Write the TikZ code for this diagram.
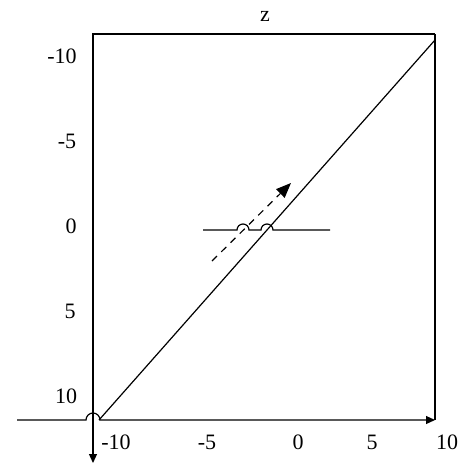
\documentclass[tikz,border=0pt]{standalone}
\usepackage{fontspec}
\setmainfont{Liberation Serif}
\usetikzlibrary{arrows.meta}
\begin{document}
\begin{tikzpicture}[x=1pt,y=-1pt,
  line/.style={line width=1.2pt,line join=miter},
  lab/.style={font=\fontsize{22}{22}\selectfont,inner sep=0pt},
  tip/.style={-{Triangle[length=9pt,width=8pt]}}]
\useasboundingbox (0,0) rectangle (474,474);
% corners
\coordinate (tl) at (93,34);
\coordinate (tr) at (435,34);
\coordinate (br) at (435,420);
\coordinate (bl) at (93,420);
\coordinate (vend) at (93,463);
\coordinate (hstart) at (17,420);
\coordinate (hopL) at (86,420);
\coordinate (dstart) at (99,420);
\coordinate (dend) at (435,40);
% box top and right, vertical axis
\draw[line,tip] (tr) -- (tl) -- (vend);
\draw[line] (tr) -- (br);
% bottom axis with hop
\draw[line,tip] (hstart) -- (hopL) arc[start angle=180,end angle=360,radius=7] -- (br);
% diagonal
\draw[line] (dstart) -- (dend);
% short horizontal with hops
\coordinate (sA) at (203,230);
\coordinate (sB) at (330,230);
\draw[line] (sA) -- (237,230) arc[start angle=180,end angle=360,radius=6] -- (261,230) arc[start angle=180,end angle=360,radius=6] -- (sB);
% dashed arrow
\coordinate (aS) at (212,261);
\coordinate (aE) at (291,183);
\draw[line,dash pattern=on 7pt off 6pt,-{Triangle[length=15pt,width=12pt]}] (aS) -- (aE);
% labels
\node[lab] (z) at (265,16) {z};
\node[lab] (l1) at (62,56) {-10};
\node[lab] (l2) at (67,141) {-5};
\node[lab] (l3) at (71,226) {0};
\node[lab] (l4) at (70,311) {5};
\node[lab] (l5) at (66,396) {10};
\node[lab] (b1) at (116,442) {-10};
\node[lab] (b2) at (207,442) {-5};
\node[lab] (b3) at (298,442) {0};
\node[lab] (b4) at (372,442) {5};
\node[lab] (b5) at (447,442) {10};
\end{tikzpicture}
\end{document}
